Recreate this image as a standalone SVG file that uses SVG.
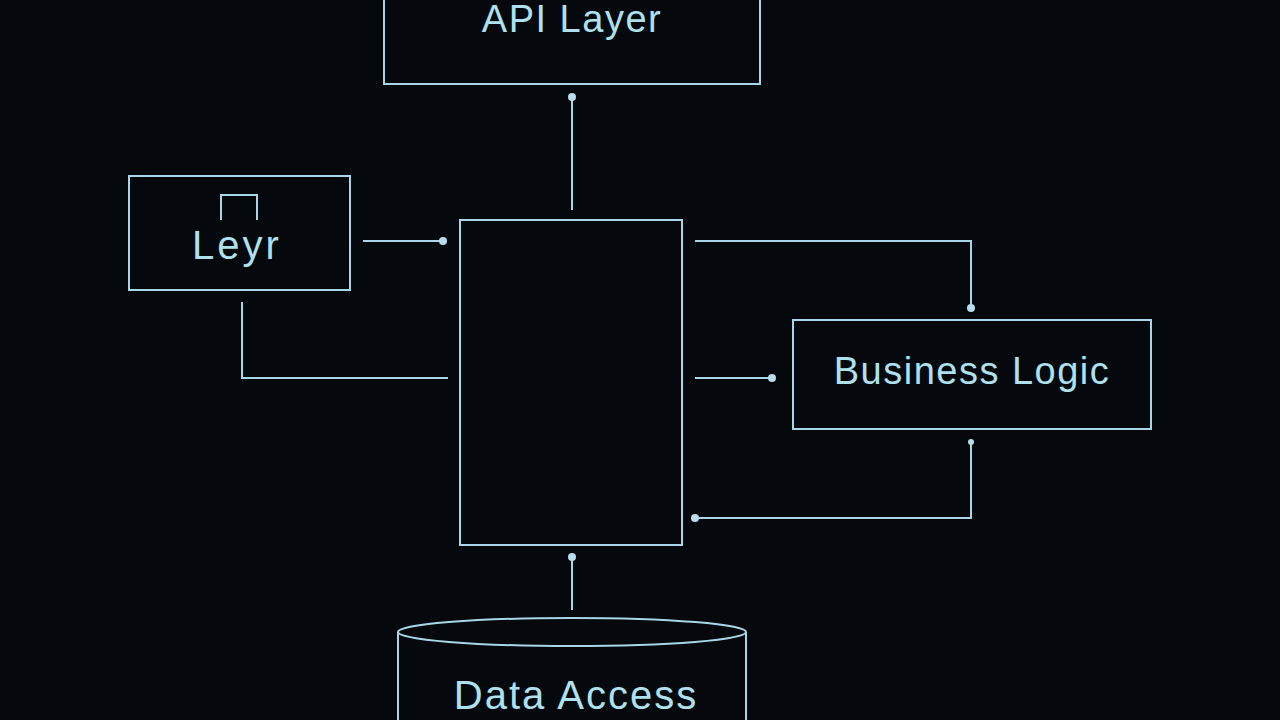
<svg xmlns="http://www.w3.org/2000/svg" width="1280" height="720" viewBox="0 0 1280 720">
<style>
.box{fill:none;stroke:#a9d6e6;stroke-width:2}
.ln{fill:none;stroke:#a9d6e6;stroke-width:2}
.dot{fill:#b8dcea}
text{font-family:"Liberation Sans",Arial,sans-serif;fill:#aee0ee;text-anchor:middle}
</style>
<rect width="1280" height="720" fill="#05090d"/>
<g id="api"><rect class="box" x="384" y="-10" width="376" height="94"/><text x="572" y="32" font-size="38" letter-spacing="1.5">API Layer</text></g>
<g id="leyr"><rect class="box" x="129" y="176" width="221" height="114"/><path class="ln" d="M221 220V195H257V220"/><text x="237" y="259" font-size="40" letter-spacing="3">Leyr</text></g>
<g id="center"><rect class="box" x="460" y="220" width="222" height="325"/></g>
<g id="business"><rect class="box" x="793" y="320" width="358" height="109"/><text x="972" y="384" font-size="38" letter-spacing="1.5">Business Logic</text></g>
<g id="data"><path class="box" d="M398 632V730M746 632V730"/><ellipse class="box" cx="572" cy="632" rx="174" ry="14"/><text x="576" y="709" font-size="40" letter-spacing="2">Data Access</text></g>
<g id="connectors">
<path class="ln" d="M572 97V210"/><circle class="dot" cx="572" cy="97" r="4"/>
<path class="ln" d="M363 241H443"/><circle class="dot" cx="443" cy="241" r="4"/>
<path class="ln" d="M242 302V378H448"/>
<path class="ln" d="M695 241H971V308"/><circle class="dot" cx="971" cy="308" r="4"/>
<path class="ln" d="M695 378H772"/><circle class="dot" cx="772" cy="378" r="4"/>
<path class="ln" d="M971 440V518H695"/><circle class="dot" cx="695" cy="518" r="4"/><circle class="dot" cx="971" cy="442" r="3"/>
<path class="ln" d="M572 557V610"/><circle class="dot" cx="572" cy="557" r="4"/>
</g>
</svg>
